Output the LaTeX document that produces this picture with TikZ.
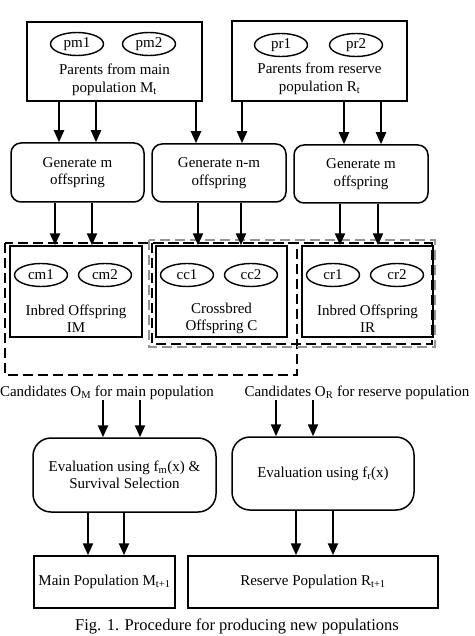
\documentclass[tikz,border=0pt]{standalone}
\usepackage{fontspec}
\setmainfont{Liberation Serif}
\usetikzlibrary{positioning,shapes.geometric,arrows.meta}
\tikzset{
  sqbox/.style={draw, line width=1.5pt, inner sep=0pt},
  rndbox/.style={draw, line width=1.5pt, inner sep=0pt, rounded corners=10pt},
  evbox/.style={draw, line width=1.5pt, inner sep=0pt, rounded corners=18pt},
  parent/.style={draw, ellipse, line width=1.4pt, minimum width=53pt, minimum height=23pt, inner sep=0pt, font=\fontsize{15}{17}\selectfont},
  txt/.style={align=center, inner sep=0pt, font=\fontsize{15}{17.5}\selectfont},
  arr/.style={-{Triangle[length=12pt,width=10pt]}, line width=2.2pt},
  candset/.style={dashed, dash pattern=on 10pt off 5pt, line width=1.8pt}
}
\begin{document}
\begin{tikzpicture}[x=1pt, y=-1pt]
        \useasboundingbox (0,0) rectangle (474,636);

        % parents
        \node[sqbox, minimum width=175pt, minimum height=79pt] (pm) at (114.5, 61.5) {};
        \node[parent] (pm1) at (77, 44) {pm1};
        \node[parent] (pm2) at (149, 44) {pm2};
        \node[txt] (pmtxt) at (114.5, 80) {Parents from main\\population M\textsubscript{t}};
        \node[sqbox, minimum width=175pt, minimum height=80pt] (pr) at (319.5, 61) {};
        \node[parent] (pr1) at (281, 45) {pr1};
        \node[parent] (pr2) at (356, 45) {pr2};
        \node[txt] (prtxt) at (319.5, 79) {Parents from reserve\\population R\textsubscript{t}};

        % generation
        \node[rndbox, txt, minimum width=133pt, minimum height=59pt] (genA) at (77.5, 172.5) {Generate m\\offspring};
        \node[rndbox, txt, minimum width=134pt, minimum height=58pt] (genB) at (219, 173) {Generate n-m\\offspring};
        \node[rndbox, txt, minimum width=134pt, minimum height=58pt] (genC) at (361, 174) {Generate m\\offspring};

        % offspring
        \node[sqbox, minimum width=132pt, minimum height=91pt] (im) at (76, 291.5) {};
        \node[parent] (cm1) at (41, 275) {cm1};
        \node[parent] (cm2) at (105, 275) {cm2};
        \node[txt] (imtxt) at (76, 318.5) {Inbred Offspring\\IM};
        \node[sqbox, minimum width=131pt, minimum height=91pt] (cc) at (221.5, 291.5) {};
        \node[parent] (cc1) at (187, 275) {cc1};
        \node[parent] (cc2) at (251, 275) {cc2};
        \node[txt] (cctxt) at (221.5, 318.5) {Crossbred\\Offspring C};
        \node[sqbox, minimum width=131pt, minimum height=91pt] (ir) at (367.5, 291.5) {};
        \node[parent] (cr1) at (333, 275) {cr1};
        \node[parent] (cr2) at (397, 275) {cr2};
        \node[txt] (irtxt) at (367.5, 318.5) {Inbred Offspring\\IR};

        % candidate sets
        \draw[candset] (5, 243) rectangle (297, 375);
        \draw[candset, gray!85] (149, 240) rectangle (435, 347);
        \draw[candset] (152, 243) rectangle (432, 344);
        \node[txt] (candM) at (107, 393) {Candidates O\textsubscript{M} for main population};
        \node[txt] (candR) at (357, 393) {Candidates O\textsubscript{R} for reserve population};

        % evaluation
        \node[evbox, txt, minimum width=183pt, minimum height=74pt] (evM) at (124.5, 475) {Evaluation using f\textsubscript{m}(x) \&\\Survival Selection};
        \node[evbox, txt, minimum width=182pt, minimum height=73pt] (evR) at (323, 473.5) {Evaluation using f\textsubscript{r}(x)};

        % new populations
        \node[sqbox, txt, minimum width=141pt, minimum height=52pt] (popM) at (104.5, 582) {Main Population M\textsubscript{t+1}};
        \node[sqbox, txt, minimum width=250pt, minimum height=52pt] (popR) at (313, 582) {Reserve Population R\textsubscript{t+1}};

        \node[txt, font=\fontsize{16.5}{19}\selectfont] (caption) at (237, 626) {Fig. 1. Procedure for producing new populations};

        \draw[arr] (59,0 |- pm.south) -- (59,0 |- genA.north);
        \draw[arr] (96,0 |- pm.south) -- (96,0 |- genA.north);
        \draw[arr] (196,0 |- pm.south) -- (196,0 |- genB.north);
        \draw[arr] (242,0 |- pr.south) -- (242,0 |- genB.north);
        \draw[arr] (344,0 |- pr.south) -- (344,0 |- genC.north);
        \draw[arr] (381,0 |- pr.south) -- (381,0 |- genC.north);
        \draw[arr] (55,0 |- genA.south) -- (55,0 |- im.north);
        \draw[arr] (92,0 |- genA.south) -- (92,0 |- im.north);
        \draw[arr] (198,0 |- genB.south) -- (198,0 |- cc.north);
        \draw[arr] (241,0 |- genB.south) -- (241,0 |- cc.north);
        \draw[arr] (340,0 |- genC.south) -- (340,0 |- ir.north);
        \draw[arr] (378,0 |- genC.south) -- (378,0 |- ir.north);
        \draw[arr] (103,0 |- candM.south) -- (103,0 |- evM.north);
        \draw[arr] (140,0 |- candM.south) -- (140,0 |- evM.north);
        \draw[arr] (276,0 |- candR.south) -- (276,0 |- evR.north);
        \draw[arr] (313,0 |- candR.south) -- (313,0 |- evR.north);
        \draw[arr] (88,0 |- evM.south) -- (88,0 |- popM.north);
        \draw[arr] (124,0 |- evM.south) -- (124,0 |- popM.north);
        \draw[arr] (296,0 |- evR.south) -- (296,0 |- popR.north);
        \draw[arr] (333,0 |- evR.south) -- (333,0 |- popR.north);
    \end{tikzpicture}
\end{document}
